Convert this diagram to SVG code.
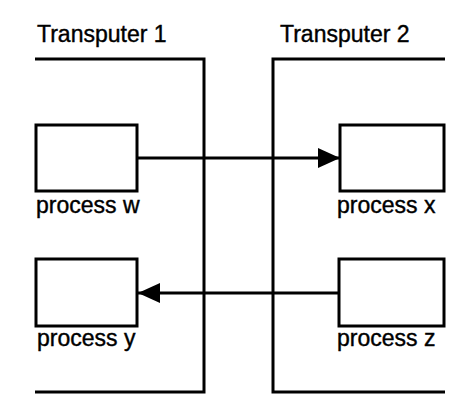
<svg xmlns="http://www.w3.org/2000/svg" width="474" height="411" viewBox="0 0 474 411">
<defs>
<style>
.frame{fill:none;stroke:#000;stroke-width:3}
.box{fill:#fff;stroke:#000;stroke-width:3}
.conn{fill:none;stroke:#000;stroke-width:3}
.lbl{font-family:"Liberation Sans",Arial,sans-serif;font-size:23px;fill:#000;stroke:#000;stroke-width:0.4}
</style>
<marker id="ah" markerUnits="userSpaceOnUse" viewBox="0 0 22 20" refX="22" refY="10" markerWidth="22" markerHeight="20" orient="auto">
<path d="M0,0 L22,10 L0,20 Z" fill="#000"/>
</marker>
</defs>
<rect width="474" height="411" fill="#fff"/>
<g id="transputer1">
<polyline class="frame" points="35,59 204,59 204,392 35,392"/>
<text class="lbl" x="37" y="42">Transputer 1</text>
</g>
<g id="transputer2">
<polyline class="frame" points="445,59 273,59 273,392 445,392"/>
<text class="lbl" x="280" y="42">Transputer 2</text>
</g>
<g id="connectors">
<line class="conn" x1="137" y1="158" x2="340" y2="158" marker-end="url(#ah)"/>
<line class="conn" x1="340" y1="293" x2="138" y2="293" marker-end="url(#ah)"/>
</g>
<g id="process-w">
<rect class="box" x="36" y="125" width="101" height="66"/>
<text class="lbl" x="36" y="213">process w</text>
</g>
<g id="process-x">
<rect class="box" x="340" y="125" width="104" height="66"/>
<text class="lbl" x="337" y="213">process x</text>
</g>
<g id="process-y">
<rect class="box" x="36" y="259" width="101" height="67"/>
<text class="lbl" x="37" y="346">process y</text>
</g>
<g id="process-z">
<rect class="box" x="339" y="259" width="105" height="67"/>
<text class="lbl" x="337" y="346">process z</text>
</g>
</svg>
